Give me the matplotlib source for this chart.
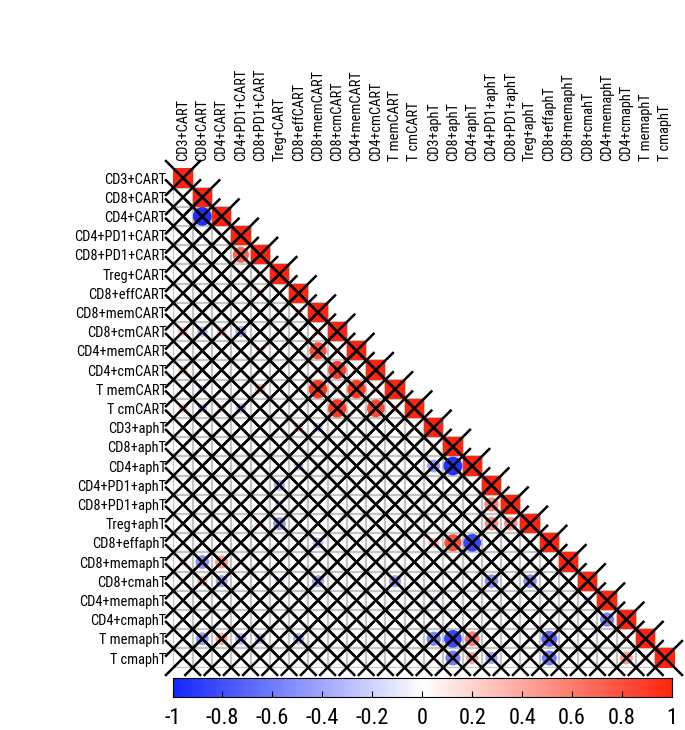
import os
import numpy as np
import matplotlib
matplotlib.use("Agg")
import matplotlib.pyplot as plt
from matplotlib.collections import LineCollection
from matplotlib.patches import Circle, Rectangle
from matplotlib.colors import LinearSegmentedColormap, Normalize
from matplotlib import font_manager
from matplotlib.font_manager import FontProperties

plt.rcParams['font.family'] = ['Liberation Sans', 'DejaVu Sans']

labels = ["CD3+CART", "CD8+CART", "CD4+CART", "CD4+PD1+CART", "CD8+PD1+CART",
          "Treg+CART", "CD8+effCART", "CD8+memCART", "CD8+cmCART", "CD4+memCART",
          "CD4+cmCART", "T memCART", "T cmCART", "CD3+aphT", "CD8+aphT", "CD4+aphT",
          "CD4+PD1+aphT", "CD8+PD1+aphT", "Treg+aphT", "CD8+effaphT", "CD8+memaphT",
          "CD8+cmahT", "CD4+memaphT", "CD4+cmaphT", "T memaphT", "T cmaphT"]

# lower-triangle correlation values, row by row (including diagonal)
r00 = [1]
r01 = [0.05, 1]
r02 = [-0.1, -0.95, 1]
r03 = [0.05, 0.1, -0.1, 1]
r04 = [0.1, 0.05, 0.0, 0.7, 1]
r05 = [0.0, 0.1, -0.05, 0.15, 0.1, 1]
r06 = [0.05, 0.0, 0.1, 0.05, 0.2, 0.1, 1]
r07 = [0.0, -0.1, 0.1, 0.0, 0.15, 0.1, 0.2, 1]
r08 = [0.25, -0.3, 0.25, -0.35, 0.1, 0.05, 0.15, 0.2, 1]
r09 = [0.1, -0.1, 0.1, -0.05, 0.2, 0.0, 0.1, 0.8, 0.15, 1]
r10 = [0.25, -0.15, 0.1, -0.1, 0.15, 0.05, 0.1, 0.1, 0.88, 0.2, 1]
r11 = [0.1, -0.2, 0.15, -0.1, 0.3, 0.05, 0.1, 0.92, 0.2, 0.9, 0.15, 1]
r12 = [0.25, -0.25, 0.2, -0.3, 0.1, 0.0, 0.1, 0.15, 0.9, 0.1, 0.85, 0.2, 1]
r13 = [0.0, -0.1, 0.1, 0.0, 0.05, 0.0, 0.25, -0.25, 0.0, 0.05, 0.1, 0.0, -0.05, 1]
r14 = [0.0, 0.05, -0.05, 0.0, 0.1, 0.0, 0.05, 0.0, 0.1, 0.0, 0.05, 0.0, 0.0, 0.15, 1]
r15 = [0.0, -0.1, 0.1, -0.2, -0.15, 0.05, -0.25, 0.2, 0.0, 0.1, 0.0, 0.05, 0.0, -0.45, -0.95, 1]
r16 = [0.05, 0.0, 0.0, 0.05, 0.0, -0.35, 0.1, 0.0, 0.05, 0.0, 0.0, 0.05, 0.0, 0.1, 0.05, 0.0, 1]
r17 = [0.0, 0.05, 0.1, 0.0, 0.1, -0.2, 0.05, 0.1, 0.0, 0.05, 0.0, 0.0, 0.05, 0.15, 0.0, 0.1, 0.55, 1]
r18 = [0.05, 0.0, 0.05, 0.1, 0.2, -0.45, 0.05, 0.0, 0.0, 0.05, 0.0, 0.0, 0.05, 0.1, 0.0, 0.05, 0.5, 0.5, 1]
r19 = [0.0, 0.05, 0.0, 0.0, 0.1, 0.0, 0.1, -0.3, 0.05, 0.0, 0.1, 0.0, 0.05, 0.3, 0.8, -0.85, 0.1, 0.05, 0.1, 1]
r20 = [0.2, -0.5, 0.45, 0.0, 0.0, 0.05, 0.1, 0.05, 0.0, 0.0, 0.05, 0.0, 0.0, 0.0, 0.1, 0.0, 0.05, 0.0, 0.05, 0.1, 1]
r21 = [0.1, 0.3, -0.4, 0.05, 0.1, -0.2, 0.0, -0.4, 0.05, 0.0, 0.1, -0.4, 0.0, 0.1, 0.0, 0.05, -0.5, 0.1, -0.5, 0.15, 0.1, 1]
r22 = [0.0, -0.1, 0.05, 0.0, 0.1, 0.0, 0.05, -0.1, 0.0, 0.05, 0.0, 0.1, 0.0, -0.2, 0.0, 0.1, 0.0, 0.05, 0.0, 0.1, 0.0, -0.2, 1]
r23 = [0.05, 0.0, 0.1, -0.05, 0.0, 0.1, 0.0, 0.05, 0.1, 0.0, 0.05, 0.0, 0.0, 0.05, 0.1, 0.0, 0.05, 0.0, 0.1, 0.0, 0.05, -0.15, -0.55, 1]
r24 = [0.05, -0.45, 0.4, -0.35, -0.3, 0.05, -0.35, 0.1, 0.0, 0.05, 0.0, 0.0, 0.05, -0.55, -0.85, 0.6, 0.1, 0.0, 0.05, -0.7, 0.05, 0.1, 0.0, 0.15, 1]
r25 = [0.0, 0.1, 0.0, 0.05, 0.1, 0.0, 0.05, 0.0, 0.1, 0.0, 0.05, 0.0, 0.1, 0.0, -0.6, 0.4, -0.4, 0.05, 0.1, -0.6, 0.0, 0.1, 0.05, 0.45, 0.2, 1]

rows = [r00, r01, r02, r03, r04, r05, r06, r07, r08, r09, r10, r11, r12,
        r13, r14, r15, r16, r17, r18, r19, r20, r21, r22, r23, r24, r25]

cbar_ticks = [-1, -0.8, -0.6, -0.4, -0.2, 0, 0.2, 0.4, 0.6, 0.8, 1]
cbar_ticklabels = ["-1", "-0.8", "-0.6", "-0.4", "-0.2", "0", "0.2", "0.4", "0.6", "0.8", "1"]

# choose a narrow sans font if one is available
font_file = None
prefs = ["LiberationSansNarrow-Regular", "RobotoCondensed-Regular", "Roboto_Condensed-Regular",
         "OpenSans_Condensed-Regular", "OpenSansCondensed-Regular", "DejaVuSansCondensed.ttf"]
files = [f.fname for f in font_manager.fontManager.ttflist if f.fname]
for p in prefs:
    hits = [f for f in files if p in os.path.basename(f)]
    if hits:
        font_file = hits[0]
        break
if font_file is None:
    extra = font_manager.findSystemFonts()
    for p in prefs:
        hits = [f for f in extra if p in os.path.basename(f)]
        if hits:
            font_file = hits[0]
            break

def fp(size):
    if font_file:
        return FontProperties(fname=font_file, size=size)
    return FontProperties(family=['Liberation Sans', 'DejaVu Sans'], size=size)

n = len(labels)
cmap = LinearSegmentedColormap.from_list(
    "bwr_m", [(0.08, 0.15, 1.0), (1, 1, 1), (1.0, 0.14, 0.05)])
norm = Normalize(-1, 1)

W, H = 685, 730
fig = plt.figure(figsize=(W / 100, H / 100), dpi=100)
renderer = fig.canvas.get_renderer()

def fit_size(s, target_px):
    t = fig.text(0, 0, s, fontproperties=fp(10))
    w = t.get_window_extent(renderer).width
    t.remove()
    return 10 * target_px / w

lab_fs = fit_size("CD4+PD1+CART", 93)
cb_fs = fit_size("-0.8", 33)

ax = fig.add_axes([173.4 / W, 1 - 667.6 / H, 501.2 / W, 499.2 / H])
ax.set_xlim(-0.5, n - 0.5)
ax.set_ylim(n - 0.5, -0.5)
for s in ax.spines.values():
    s.set_visible(False)

# grid of light gray cell borders (lower triangle)
grid = []
for i in range(n):
    for j in range(i + 1):
        x0, x1, y0, y1 = j - 0.5, j + 0.5, i - 0.5, i + 0.5
        grid += [[(x0, y0), (x1, y0)], [(x0, y1), (x1, y1)],
                 [(x0, y0), (x0, y1)], [(x1, y0), (x1, y1)]]
ax.add_collection(LineCollection(grid, colors="#c4c4c4", linewidths=1.5, zorder=1))

# colored circles (area grows with |r|)
for i, row in enumerate(rows):
    for j, v in enumerate(row):
        col = cmap(norm(v))
        clip = Rectangle((j - 0.5, i - 0.5), 1, 1, transform=ax.transData)
        if abs(v) >= 0.99:
            p = Rectangle((j - 0.5, i - 0.5), 1, 1, facecolor=col, edgecolor="none", zorder=2)
        else:
            p = Circle((j, i), 0.5 * np.sqrt(abs(v)), facecolor=col, edgecolor="none", zorder=2)
        ax.add_patch(p)
        p.set_clip_path(clip)

# crosses on every cell
h = 0.93
segs = []
for i, row in enumerate(rows):
    for j, v in enumerate(row):
        segs.append([(j - h, i - h), (j + h, i + h)])
        segs.append([(j - h, i + h), (j + h, i - h)])
lc = LineCollection(segs, colors="black", linewidths=1.8, zorder=3, clip_on=False)
ax.add_collection(lc)

ax.set_xticks(range(n))
ax.set_yticks(range(n))
ax.set_yticklabels(labels, fontproperties=fp(lab_fs))
ax.set_xticklabels(labels, fontproperties=fp(lab_fs), rotation=90)
ax.xaxis.tick_top()
ax.tick_params(axis="both", length=0)
ax.tick_params(axis="y", pad=5)
ax.tick_params(axis="x", pad=5)

# colorbar
cax = fig.add_axes([172.5 / W, 1 - 696.7 / H, 499.5 / W, 19 / H])
grad = np.linspace(-1, 1, 512).reshape(1, -1)
cax.imshow(grad, aspect="auto", cmap=cmap, norm=norm, extent=[-1, 1, 0, 1])
cax.set_xlim(-1, 1)
cax.set_ylim(0, 1)
cax.set_yticks([])
cax.set_xticks(cbar_ticks)
cax.set_xticklabels(cbar_ticklabels, fontproperties=fp(cb_fs))
cax.tick_params(axis="x", direction="in", length=4, width=0.8, pad=8)
for s in cax.spines.values():
    s.set_linewidth(0.8)

fig.savefig("out.png", dpi=100)
